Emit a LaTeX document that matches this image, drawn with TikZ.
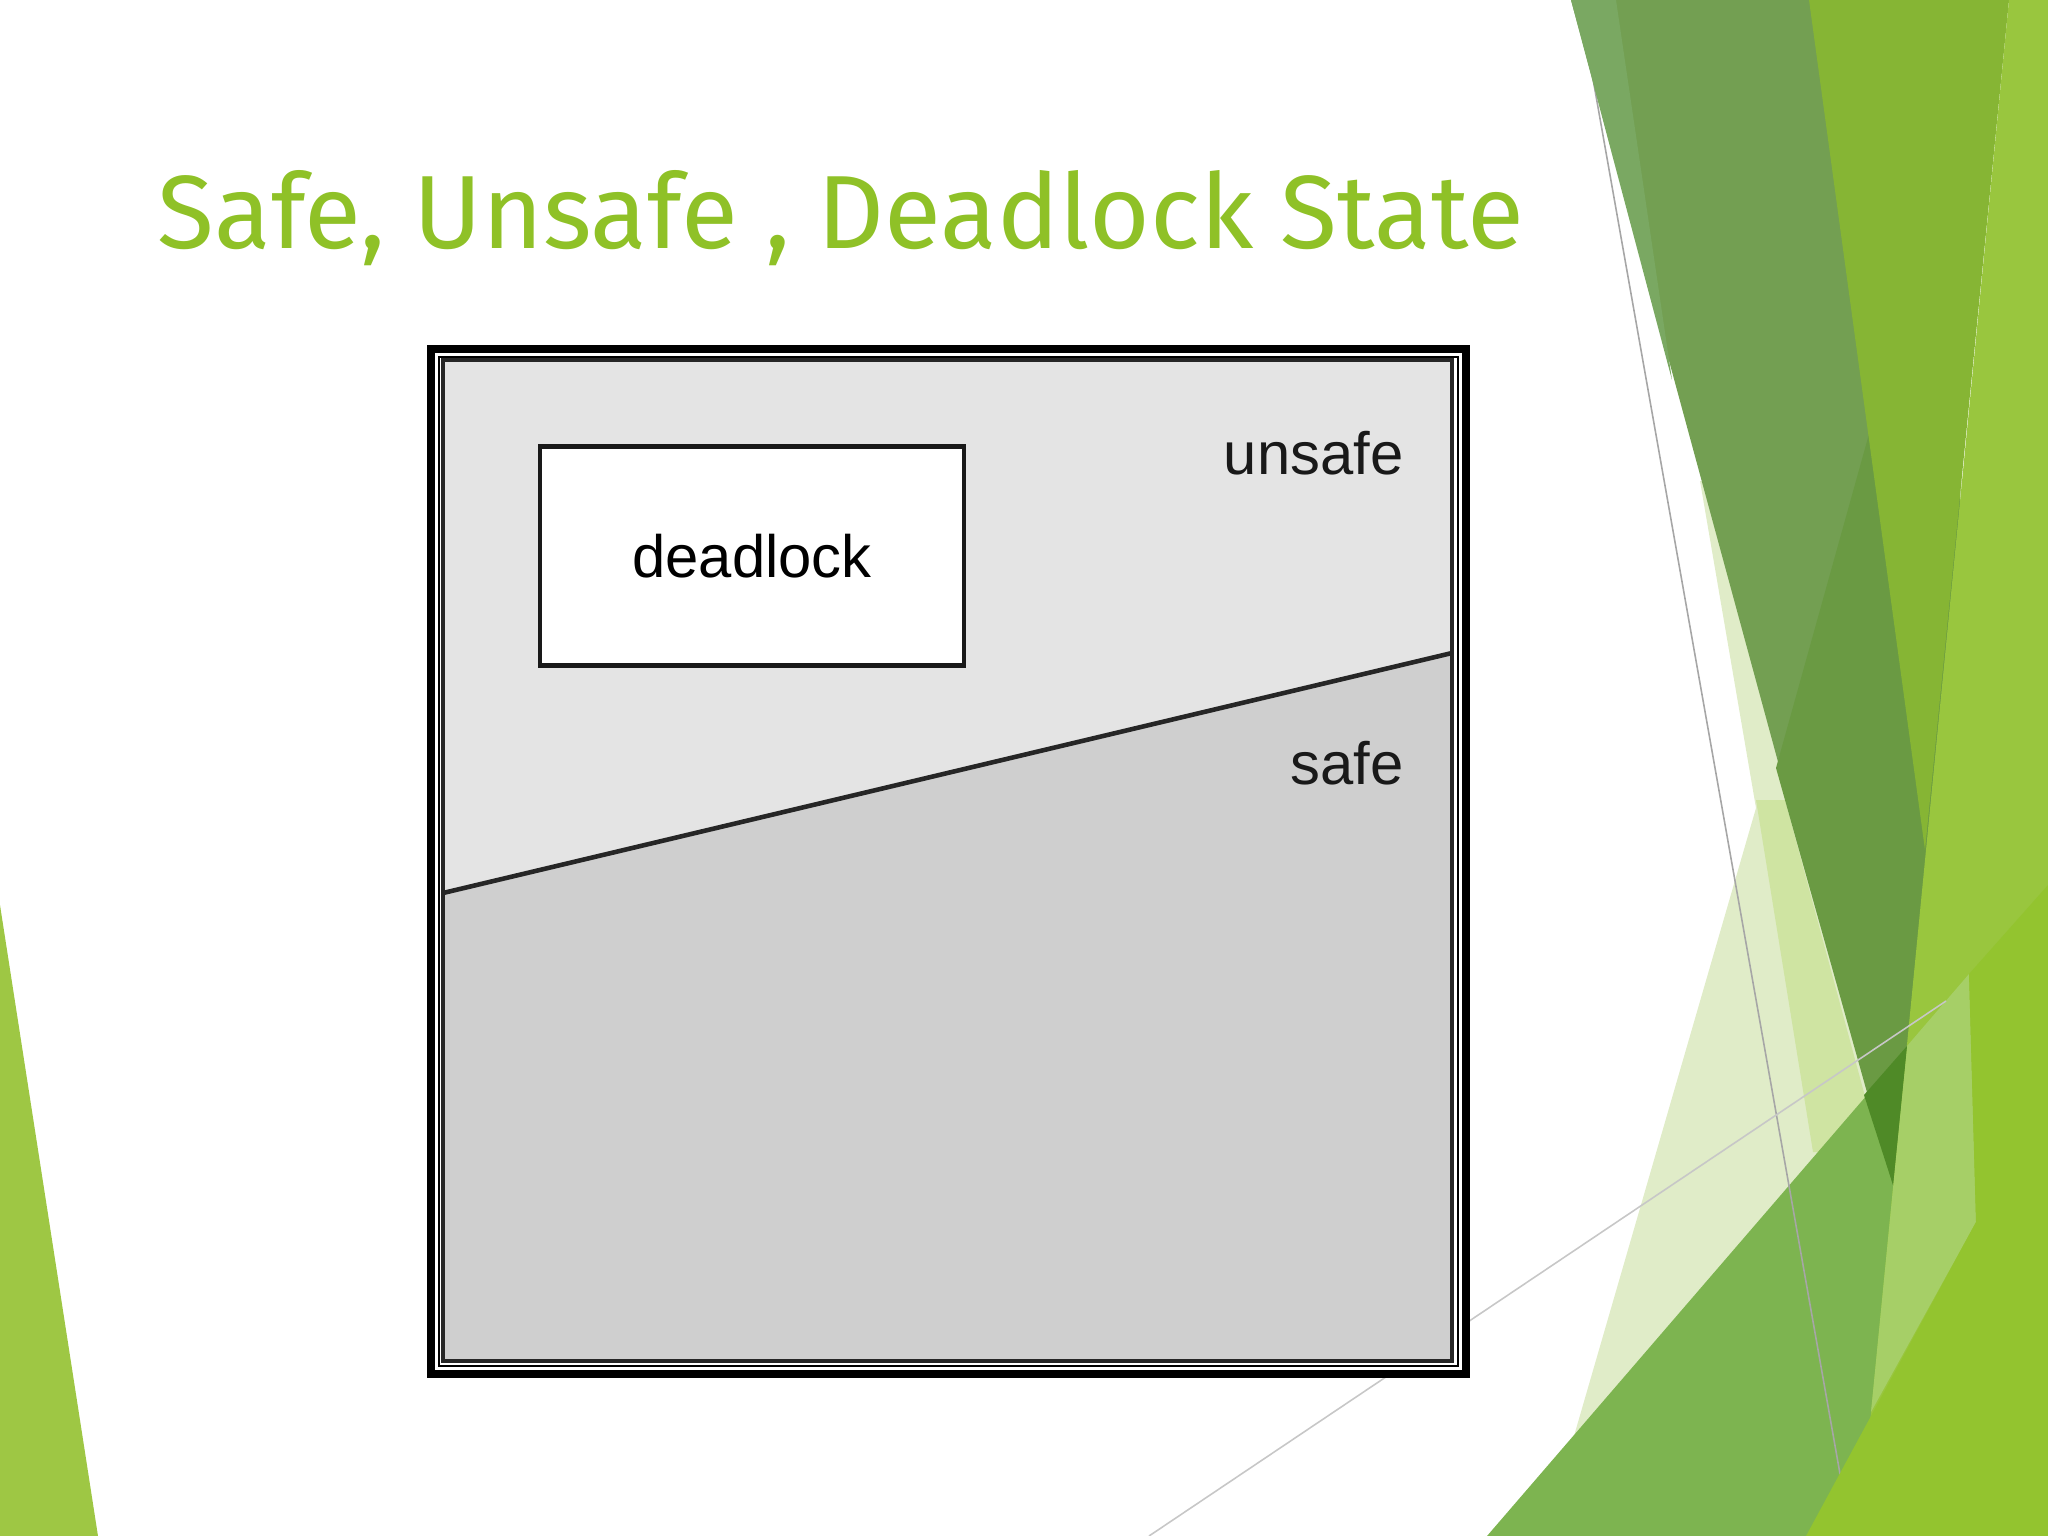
\documentclass[tikz,border=0pt]{standalone}
\usepackage{fontspec}
\setmainfont{Liberation Sans}
\newfontfamily\titlefont{Fira Sans}
\usetikzlibrary{positioning}

\definecolor{titlegreen}{HTML}{8FC127}
\definecolor{unsafegray}{HTML}{E4E4E4}
\definecolor{safegray}{HTML}{CFCFCF}
\definecolor{facetpale}{HTML}{E0ECC8}
\definecolor{facetpaleb}{HTML}{CFE4A2}
\definecolor{facetlow}{HTML}{7DB450}
\definecolor{facetmid}{HTML}{739F52}
\definecolor{facetmidl}{HTML}{7AA862}
\definecolor{facetdark}{HTML}{6A9A43}
\definecolor{facetbright}{HTML}{86B534}
\definecolor{facetpanel}{HTML}{99C63E}
\definecolor{facetlight}{HTML}{A6CF67}
\definecolor{facetdeep}{HTML}{4F8A27}
\definecolor{facetcorner}{HTML}{93C42F}
\definecolor{facetleft}{HTML}{9EC744}

\tikzset{
  facetline/.style={draw=black!35,line width=0.45pt},
  statelabel/.style={font=\fontsize{17}{20}\selectfont,text=black!90,inner sep=0pt},
  dlbox/.style={draw=black!90,line width=1.3pt,fill=white,minimum width=4.24cm,
                minimum height=2.19cm,inner sep=0pt,font=\fontsize{17}{20}\selectfont}
}

\begin{document}
\begin{tikzpicture}[x=0.01cm,y=-0.01cm]
\useasboundingbox (0,0) rectangle (2048,1536);

\begin{scope}
    \clip (0,0) rectangle (2048,1536);
    \fill[facetleft] (0,905) -- (98,1536) -- (0,1536) -- cycle;
    \fill[facetpale] (1700,481) -- (1756,808) -- (1545,1536) -- (2048,1536) -- (2048,481) -- cycle;
    \fill[facetpaleb] (1756,800) -- (1813,1152) -- (1880,1152) -- (1785,800) -- cycle;
    \fill[facetlow] (1487,1536) -- (2048,885) -- (2048,1536) -- cycle;
    \draw[facetline] (1579,0) -- (1851,1536);
    \fill[facetmid] (1571,0) -- (1960,0) -- (1893,1185) -- cycle;
    \fill[facetmidl] (1571,0) -- (1616,0) -- (1672,380) -- cycle;
    \fill[facetdark] (1869,434) -- (1776,768) -- (1893,1185) -- (1960,700) -- (1960,434) -- cycle;
    \fill[facetbright] (1809,0) -- (2009,0) -- (1925,850) -- cycle;
    \fill[facetpanel] (2009,0) -- (2048,0) -- (2048,1536) -- (1859,1536) -- cycle;
    \fill[facetlight] (1907,1046) -- (1969,974) -- (1976,1222) -- (1871,1412) -- cycle;
    \fill[facetdeep] (1864,1095) -- (1907,1046) -- (1893,1185) -- cycle;
    \fill[facetcorner] (1806,1536) -- (1976,1222) -- (1969,974) -- (2048,885) -- (2048,1536) -- cycle;
    \draw[draw=black!22,line width=0.45pt] (1149,1536) -- (1946,1001);
\end{scope}

\node[anchor=base west,inner sep=0pt,text=titlegreen,font=\titlefont\fontsize{29.6}{34}\selectfont]
    (title) at (157,248) {Safe, Unsafe , Deadlock State};

\fill[white] (427,345) rectangle (1470,1378);
\draw[line width=2.4pt] (431,349) rectangle (1466,1374);
\draw[line width=0.8pt] (439,357) rectangle (1458,1366);
\fill[unsafegray] (443,360) rectangle (1452,1361);
\coordinate (ul) at (443,893);
\coordinate (ur) at (1452,653);
\fill[safegray] (ul) -- (ur) -- (1452,1361) -- (443,1361) -- cycle;
\draw[black!85,line width=1.3pt] (ul) -- (ur);
\draw[black!85,line width=1pt] (443,360) rectangle (1452,1361);

\node[dlbox] (dl) at (752,556) {deadlock};
\node[statelabel,anchor=base east] (unsafe) at (1404,474) {unsafe};
\node[statelabel,anchor=base east] (safe) at (1404,784) {safe};
\end{tikzpicture}
\end{document}
